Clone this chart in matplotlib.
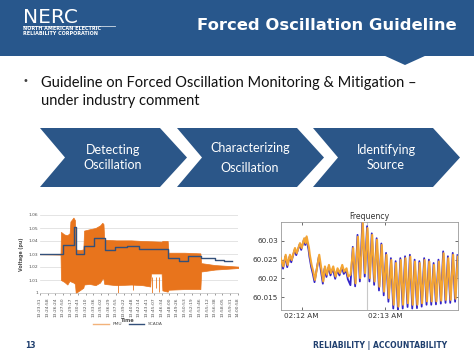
import matplotlib
matplotlib.use("Agg")
import matplotlib.pyplot as plt
from matplotlib.lines import Line2D
from matplotlib.patches import Polygon, Rectangle

# ---- slide text ----
title = "Forced Oscillation Guideline"
bullet_lines = ["Guideline on Forced Oscillation Monitoring & Mitigation \u2013",
                "under industry comment"]
steps = [("Detecting", "Oscillation"), ("Characterizing", "Oscillation"),
         ("Identifying", "Source")]
footer_left = "13"
footer_right = "RELIABILITY | ACCOUNTABILITY"

# ---- voltage chart (x in category-tick units) ----
voltage_ticks = ["13:23:31", "13:24:58", "13:26:24", "13:27:50", "13:29:17",
                 "13:30:43", "13:32:10", "13:33:36", "13:35:02", "13:36:29",
                 "13:37:55", "13:39:22", "13:40:48", "13:42:14", "13:43:41",
                 "13:45:07", "13:46:34", "13:48:00", "13:49:26", "13:50:53",
                 "13:52:19", "13:53:46", "13:55:12", "13:56:38", "13:58:05",
                 "13:59:31", "14:00:58"]
voltage_yticks = [1.00, 1.01, 1.02, 1.03, 1.04, 1.05, 1.06]
voltage_ylabels = ["1", "1.01", "1.02", "1.03", "1.04", "1.05", "1.06"]

scada_x = [0.0, 3.05, 4.45, 4.75, 5.85, 7.1, 8.5, 9.9, 11.4, 13.0,
           16.9, 18.3, 19.5, 21.2, 23.0, 24.2, 25.3]
scada_y = [1.0298, 1.0372, 1.0508, 1.0300, 1.0365, 1.0420, 1.0332, 1.0352,
           1.0360, 1.0336, 1.0268, 1.0243, 1.0281, 1.0266, 1.0256, 1.0248, 1.0248]

pmu_x = [0.0, 2.7, 2.76, 3.2, 3.6, 3.9, 4.0, 4.4, 4.6, 4.7, 5.2, 5.7, 5.8,
         6.5, 7.3, 7.9, 8.2, 8.35, 8.45, 10.0, 12.0, 13.5, 14.5, 14.6, 16.0,
         16.1, 16.8, 16.9, 19.0, 21.1, 21.2, 23.0, 26.1]
pmu_hi = [1.0300, 1.0298, 1.0470, 1.0450, 1.0445, 1.0460, 1.0550, 1.0580,
          1.0560, 1.0335, 1.0330, 1.0335, 1.0480, 1.0490, 1.0500, 1.0520,
          1.0540, 1.0530, 1.0410, 1.0405, 1.0405, 1.0400, 1.0398, 1.0398,
          1.0395, 1.0400, 1.0400, 1.0310, 1.0310, 1.0305, 1.0230, 1.0215, 1.0203]
pmu_lo = [1.0298, 1.0296, 1.0100, 1.0085, 1.0065, 1.0095, 1.0090, 1.0080,
          1.0070, 1.0000, 1.0020, 1.0040, 1.0065, 1.0070, 1.0060, 1.0080,
          1.0110, 1.0110, 1.0070, 1.0060, 1.0065, 1.0060, 1.0050, 1.0150,
          1.0150, 1.0020, 1.0010, 1.0025, 1.0030, 1.0030, 1.0165, 1.0180, 1.0192]
pmu_spike_x = [10.3, 12.3, 14.8, 15.2, 15.7]
pmu_spike_lo = [1.000, 1.002, 1.000, 1.004, 1.001]

# ---- frequency chart (seconds after 02:12:00) ----
freq_t = [-15.1, -13.2, -11.5, -10.1, -8.4, -7.2, -4.8, -3.6, -1.2, 0.0,
          1.9, 2.9, 3.6, 5.3, 5.9, 7.2, 8.4, 9.6, 12.7, 15.6, 16.8, 18.2,
          19.7, 21.1, 22.8, 24.5, 25.9, 27.6, 29.3, 30.7, 32.4, 33.6, 35.3,
          37.2, 38.9, 40.6, 42.3, 44.1, 45.8, 47.5, 49.2, 50.9, 52.6, 54.4,
          56.1, 57.8, 59.5, 61.2, 62.9, 64.7, 66.4, 68.1, 69.8, 71.5, 73.2,
          74.9, 76.7, 78.4, 80.1, 81.8, 83.5, 85.2, 86.9, 88.7, 90.4, 92.1,
          93.8, 95.5, 97.2, 99.0, 100.7, 102.4, 104.1, 105.8, 107.5, 109.3,
          111.0, 112.7]
freq_orange = [60.0254, 60.0232, 60.0263, 60.0236, 60.0263, 60.0249, 60.0281,
               60.0267, 60.0294, 60.0281, 60.0307, 60.0294, 60.0312, 60.0281,
               60.0263, 60.0236, 60.0218, 60.0196, 60.0263, 60.0192, 60.0232,
               60.0210, 60.0236, 60.0214, 60.0232, 60.0205, 60.0227, 60.0214,
               60.0236, 60.0218, 60.0227, 60.0205, 60.0210,
               60.0281, 60.0187, 60.0311, 60.0201, 60.0347, 60.0214, 60.0334,
               60.0201, 60.0316, 60.0192, 60.0303, 60.0178, 60.0289, 60.0165,
               60.0263, 60.0148, 60.0249, 60.0130, 60.0241, 60.0125, 60.0249,
               60.0130, 60.0254, 60.0134, 60.0258, 60.0130, 60.0245, 60.0130,
               60.0241, 60.0134, 60.0249, 60.0139, 60.0245, 60.0139, 60.0236,
               60.0139, 60.0245, 60.0141, 60.0267, 60.0143, 60.0254, 60.0143,
               60.0263, 60.0146, 60.0258]
freq_blue_t = [-15.1, -13.4, -11.8, -10.4, -8.7, -7.5, -5.1, -3.9, -1.5, -0.3,
               1.6, 2.6, 3.3, 5.0, 5.6, 6.9, 8.1, 9.3, 12.4, 15.3, 16.5, 17.9,
               19.4, 20.8, 22.5, 24.2, 25.6, 27.3, 29.0, 30.4, 32.1, 33.3, 35.2,
               36.9, 38.6, 40.3, 42.0, 43.8, 45.5, 47.2, 48.9, 50.6, 52.3, 54.1,
               55.8, 57.5, 59.2, 60.9, 62.6, 64.4, 66.1, 67.8, 69.5, 71.2, 72.9,
               74.6, 76.4, 78.1, 79.8, 81.5, 83.2, 84.9, 86.6, 88.4, 90.1, 91.8,
               93.5, 95.2, 96.9, 98.7, 100.4, 102.1, 103.8, 105.5, 107.2, 109.0,
               110.7, 112.4]
freq_blue = [60.0250, 60.0226, 60.0258, 60.0230, 60.0258, 60.0243, 60.0276,
             60.0262, 60.0290, 60.0276, 60.0303, 60.0289, 60.0308, 60.0276,
             60.0258, 60.0230, 60.0212, 60.0190, 60.0258, 60.0186, 60.0226,
             60.0204, 60.0230, 60.0208, 60.0226, 60.0199, 60.0221, 60.0208,
             60.0230, 60.0212, 60.0221, 60.0198, 60.0182,
             60.0284, 60.0179, 60.0316, 60.0192, 60.0352, 60.0205, 60.0339,
             60.0192, 60.0320, 60.0183, 60.0307, 60.0168, 60.0293, 60.0155,
             60.0268, 60.0138, 60.0254, 60.0120, 60.0246, 60.0114, 60.0254,
             60.0120, 60.0259, 60.0124, 60.0263, 60.0120, 60.0250, 60.0121,
             60.0246, 60.0125, 60.0254, 60.0130, 60.0250, 60.0130, 60.0241,
             60.0131, 60.0250, 60.0133, 60.0272, 60.0135, 60.0259, 60.0135,
             60.0268, 60.0138, 60.0262]
freq_cursor_t = 47.3
freq_xticks = [0, 60]
freq_xlabels = ["02:12 AM", "02:13 AM"]
freq_yticks = [60.015, 60.02, 60.025, 60.03]
freq_ylabels = ["60.015", "60.02", "60.025", "60.03"]

NAVY = "#28578c"
CHEVRON = "#2b5688"
FOOT = "#1f3f6e"
ORANGE = "#e8741c"
SCADA = "#33507a"
GREY = "#505050"

W, H = 474, 355
fig = plt.figure(figsize=(W / 100, H / 100), dpi=100)

# slide background drawn in pixel coordinates
bg = fig.add_axes([0, 0, 1, 1])
bg.set_xlim(0, W)
bg.set_ylim(H, 0)
bg.axis("off")

bg.add_patch(Rectangle((0, 0), W, 56, color=NAVY, lw=0))
bg.add_patch(Polygon([(383, 55), (427, 55), (405, 65)], closed=True, color=NAVY, lw=0))

# NERC logo
bg.text(23, 23, "NERC", color="white", fontsize=14.5, family="DejaVu Sans",
        va="baseline", ha="left")
bg.plot([23, 115], [25.5, 25.5], color="white", lw=0.6, alpha=0.8)
bg.text(23, 30.5, "NORTH AMERICAN ELECTRIC", color="white", fontsize=3.5,
        fontweight="bold", va="baseline", ha="left")
bg.text(23, 35, "RELIABILITY CORPORATION", color="white", fontsize=3.5,
        fontweight="bold", va="baseline", ha="left")

bg.text(457, 29.5, title, color="white", fontsize=11.8, fontweight="bold",
        family="DejaVu Sans", ha="right", va="baseline")

# bullet
bg.text(25, 81, "\u2022", color="#404040", fontsize=7, ha="center", va="center")
bg.text(41, 86.5, bullet_lines[0], color="#111111", fontsize=10.5, family="Lato",
        ha="left", va="baseline")
bg.text(41, 104.5, bullet_lines[1], color="#111111", fontsize=10.5, family="Lato",
        ha="left", va="baseline")

# process chevrons
chev_left = [40, 177, 313]
for left, (l1, l2) in zip(chev_left, steps):
    pts = [(left, 128), (left + 120, 128), (left + 147, 157.5),
           (left + 120, 187), (left, 187), (left + 25, 157.5)]
    bg.add_patch(Polygon(pts, closed=True, color=CHEVRON, lw=0))
    cx = left + 73
    if l1.startswith("Char"):
        bg.text(cx, 148, l1, color="white", fontsize=9, family="Lato", ha="center", va="center")
        bg.text(cx, 168, l2, color="white", fontsize=9, family="Lato", ha="center", va="center")
    else:
        bg.text(cx, 150.5, l1, color="white", fontsize=9, family="Lato", ha="center", va="center")
        bg.text(cx, 165, l2, color="white", fontsize=9, family="Lato", ha="center", va="center")

# footer
bg.text(25, 348, footer_left, color=FOOT, fontsize=5.5, fontweight="bold",
        ha="left", va="baseline")
bg.text(447, 348, footer_right, color=FOOT, fontsize=5.5, fontweight="bold",
        ha="right", va="baseline")

# ---- voltage chart ----
ax = fig.add_axes([40 / W, 1 - 293 / H, 198 / W, 78 / H])
ax.fill_between(pmu_x, pmu_lo, pmu_hi, color=ORANGE, lw=0.5, zorder=2)
ax.vlines(pmu_spike_x, pmu_spike_lo, 1.012, color=ORANGE, lw=0.6, zorder=2)
ax.step(scada_x, scada_y, where="post", color=SCADA, lw=1.0, zorder=3)
ax.set_xlim(0, 26.05)
ax.set_ylim(1.0, 1.06)
ax.set_yticks(voltage_yticks)
ax.set_yticklabels(voltage_ylabels)
ax.set_xticks(range(len(voltage_ticks)))
ax.set_xticklabels(voltage_ticks, rotation=90)
ax.tick_params(axis="both", labelsize=3.2, colors=GREY, length=1.5, width=0.4, pad=1.5)
ax.tick_params(axis="y", length=0)
ax.grid(axis="y", color="#d9d9d9", lw=0.5, zorder=0)
for side in ("top", "right", "left"):
    ax.spines[side].set_visible(False)
ax.spines["bottom"].set_color("#bfbfbf")
ax.spines["bottom"].set_linewidth(0.5)
ax.set_ylabel("Voltage (pu)", fontsize=3.4, fontweight="bold", color=GREY)
ax.yaxis.set_label_coords((24 - 40) / 198, 0.5)
ax.set_xlabel("Time", fontsize=3.6, fontweight="bold", color=GREY)
ax.xaxis.set_label_coords((128 - 40) / 198, -(318 - 293) / 78)
ax.legend(handles=[Line2D([], [], color="#f2b27a", lw=1.0, label="PMU"),
                   Line2D([], [], color=SCADA, lw=1.0, label="SCADA")],
          ncol=2, loc="center", bbox_to_anchor=(128 / W, 1 - 324 / H),
          bbox_transform=fig.transFigure, frameon=False, fontsize=3.2,
          handlelength=3.5, columnspacing=1.5, labelcolor=GREY)

# ---- frequency chart ----
fx = fig.add_axes([280.7 / W, 1 - 310 / H, 177.3 / W, 88.3 / H])
fx.axvline(freq_cursor_t, color="#c8c8c8", lw=0.8, zorder=1)
fx.plot(freq_blue_t, freq_blue, color="#3324c8", lw=1.3, zorder=2)
fx.plot(freq_t, freq_orange, color="#f4a533", lw=1.5, zorder=3)
fx.set_xlim(-15.1, 112.8)
fx.set_ylim(60.0116, 60.0351)
fx.set_xticks(freq_xticks)
fx.set_xticklabels(freq_xlabels)
fx.set_yticks(freq_yticks)
fx.set_yticklabels(freq_ylabels)
fx.tick_params(axis="both", labelsize=5.2, colors="#333333", direction="in",
               length=2, width=0.5, right=True, top=True, pad=2)
for sp in fx.spines.values():
    sp.set_color("#9a9a9a")
    sp.set_linewidth(0.6)
fx.set_title("Frequency", fontsize=5.6, color="#333333", pad=2)

fig.savefig("out.png", dpi=100)
